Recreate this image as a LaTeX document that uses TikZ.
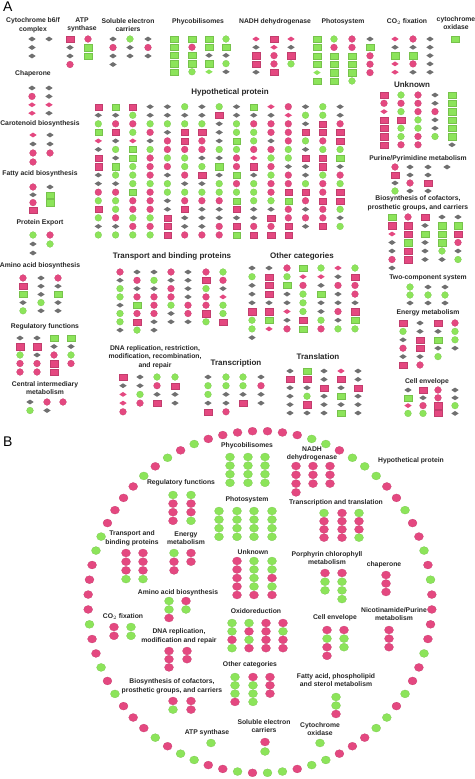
\documentclass[tikz,border=0pt]{standalone}
\usepackage{fontspec}
\setmainfont{Liberation Sans}
\usetikzlibrary{shapes.geometric}
\definecolor{pk}{RGB}{228,72,128}
\definecolor{gn}{RGB}{140,228,90}
\definecolor{gy}{RGB}{112,112,112}
% one column of genes: name, x, top y, pitch, list of styles
\newcommand{\gcol}[5]{\foreach \s [count=\k] in {#5} {\node[\s] (#1-\k) at (#2,{#3+(\k-1)*#4}) {};}}

\begin{document}
\begin{tikzpicture}[x=1pt,y=-1pt,
	pc/.style={circle,fill=pk,draw=pk!85!black,line width=.2pt,minimum size=6.8pt,inner sep=0pt},
	ps/.style={rectangle,fill=pk,draw=pk!85!black,line width=.2pt,minimum width=7.4pt,minimum height=6.2pt,inner sep=0pt},
	pd/.style={diamond,fill=pk,minimum width=7.6pt,minimum height=5pt,inner sep=0pt},
	gc/.style={circle,fill=gn,draw=gn!85!black,line width=.2pt,minimum size=6.8pt,inner sep=0pt},
	gs/.style={rectangle,fill=gn,draw=gn!85!black,line width=.2pt,minimum width=7.4pt,minimum height=6.2pt,inner sep=0pt},
	gd/.style={diamond,fill=gn,minimum width=7.6pt,minimum height=5pt,inner sep=0pt},
	dd/.style={diamond,fill=gy,minimum width=7.6pt,minimum height=5pt,inner sep=0pt},
	bp/.style={ellipse,fill=pk,draw=pk!85!black,line width=.2pt,minimum width=9pt,minimum height=8pt,inner sep=0pt},
	bg/.style={ellipse,fill=gn,draw=gn!85!black,line width=.2pt,minimum width=9pt,minimum height=8pt,inner sep=0pt},
	lbl/.style={font=\fontsize{6.8}{8.6}\selectfont\bfseries,text=black!85,align=center,inner sep=0pt},
	lblm/.style={font=\fontsize{8}{9.5}\selectfont\bfseries,text=black!85,align=center,inner sep=0pt},
	pan/.style={font=\fontsize{14}{16}\selectfont,anchor=north west,inner sep=0pt}]
	\useasboundingbox (0,0) rectangle (474,779);
	
	% ---------------- A
	\node[pan] (A) at (3,2) {A};
	
	\node[lbl] (cyt) at (33,25) {Cytochrome b6/f\\complex};
	\gcol{cyt1}{32}{39}{8.5}{dd,dd,dd}
	\gcol{cyt2}{49}{39}{8.5}{dd}
	\node[lbl] (atp) at (82,25) {ATP\\synthase};
	\gcol{atp1}{70}{39}{8.5}{ps,dd,dd,pc}
	\gcol{atp2}{88}{39}{8.5}{pc,gs,gs}
	\node[lbl] (sol) at (128,25) {Soluble electron\\carriers};
	\gcol{sol1}{113}{39}{8.5}{dd,pc,dd,dd}
	\gcol{sol2}{130}{39}{8.5}{gc,dd,dd}
	\gcol{sol3}{148}{39}{8.5}{dd,pc,dd}
	\node[lbl] (phy) at (198,22) {Phycobilisomes};
	\gcol{phy1}{174}{39}{8.2}{gs,gs,gs,gs,gs}
	\gcol{phy2}{192}{39}{8.2}{gs,pc,gs,gs,gc}
	\gcol{phy3}{209}{39}{8.2}{gs,gs,dd,gs,gd}
	\gcol{phy4}{226}{39}{8.2}{gc,gs,dd,gc,dd}
	\node[lbl] (nadh) at (275,22) {NADH dehydrogenase};
	\gcol{nadh1}{256}{39}{8.3}{pd,dd,ps,ps,dd}
	\gcol{nadh2}{274}{39}{8.3}{ps,pd,pc,pc,ps}
	\gcol{nadh3}{291}{39}{8.3}{pd,dd,ps,gc}
	\node[lbl] (pho) at (343,22) {Photosystem};
	\gcol{pho1}{317}{39}{8.4}{gs,gs,gs,gs,gd,gs}
	\gcol{pho2}{334}{39}{8.4}{gc,pc,gs,gs,gs,gs}
	\gcol{pho3}{352}{39}{8.4}{pc,pc,gs,gs,gs,gc}
	\gcol{pho4}{370}{39}{8.4}{dd,gs,pc,pc,pc}
	\node[lbl] (co2) at (407,22) {CO$_2$ fixation};
	\gcol{co21}{395}{39}{8.3}{pd,dd,gs,pd,pd}
	\gcol{co22}{413}{39}{8.3}{pc,dd,gs,pc,dd}
	\gcol{co23}{430}{39}{8.3}{dd,dd,dd,dd,dd}
	\node[lbl] (cox) at (456,23) {cytochrome\\oxidase};
	\gcol{cox1}{455}{39}{8.3}{gs}
	
	% left side
	\node[lbl] (cha) at (33,74) {Chaperone};
	\gcol{cha1}{32}{88}{8.4}{dd,pc,pd,pd}
	\gcol{cha2}{49}{88}{8.4}{dd,dd,pd,dd}
	\node[lbl] (car) at (40,124) {Carotenoid biosynthesis};
	\gcol{car1}{33}{135}{9}{pd,dd,pc,pc}
	\gcol{car2}{50}{135}{9}{dd,dd,pc}
	\node[lbl] (fat) at (40,174) {Fatty acid biosynthesis};
	\gcol{fat1}{33}{187}{7.8}{pc,dd,pc,ps}
	\gcol{fat2}{50}{187}{7.8}{dd,gs,gs}
	\node[lbl] (pex) at (40,223) {Protein Export};
	\gcol{pex1}{33}{235}{9}{gc,dd,dd}
	\gcol{pex2}{50}{235}{9}{pc,gc}
	\node[lbl] (ami) at (40,266) {Amino acid biosynthesis};
	\gcol{ami1}{23}{278}{8.2}{pc,ps,gs,dd,gc}
	\gcol{ami2}{41}{278}{8.2}{dd,dd,dd,gc,dd}
	\gcol{ami3}{58}{278}{8.2}{pc,dd,gs,dd,dd}
	\node[lbl] (reg) at (45,327) {Regulatory functions};
	\gcol{reg1}{20}{338}{8.5}{dd,ps,gc,pc,pc}
	\gcol{reg2}{37}{338}{8.5}{dd,ps,dd,pc,pc}
	\gcol{reg3}{54}{338}{8.5}{gs,dd,pc,ps,ps}
	\gcol{reg4}{71}{338}{8.5}{gs,dd,gc,pc}
	\node[lbl] (cim) at (45,388) {Central intermediary\\metabolism};
	\gcol{cim1}{30}{402}{8.5}{dd,gc}
	\gcol{cim2}{47}{402}{8.5}{pc,dd}
	\gcol{cim3}{63}{402}{8.5}{pc}
	
	% hypothetical protein
	\node[lblm] (hyp) at (230,92) {Hypothetical protein};
	\gcol{hyp1}{98.3}{106.7}{8.55}{ps,dd,gc,gs,pd,dd,ps,ps,dd,dd,pc,gc,ps,gc,dd,gc}
	\gcol{hyp2}{115.6}{106.7}{8.55}{gs,dd,pc,ps,dd,gc,dd,gs,gc,dd,pc,gc,gc,pc,dd,gc}
	\gcol{hyp3}{132.8}{106.7}{8.55}{ps,gc,pc,gc,pd,gs,gs,gc,gc,gc,gs,pc,pc,gc,pc,gc}
	\gcol{hyp4}{150.1}{106.7}{8.55}{dd,dd,gc,pc,dd,gc,pc,pc,pc,gc,pc,pc,pc,gc,pc,gc}
	\gcol{hyp5}{167.4}{106.7}{8.55}{dd,dd,gc,dd,pc,pc,gc,pc,dd,gc,gc,dd,dd,ps,ps,ps}
	\gcol{hyp6}{184.7}{106.7}{8.55}{gc,dd,gc,ps,ps,pc,gc,gc,pc,dd,gc,pc,ps,dd,dd,pc}
	\gcol{hyp7}{201.9}{106.7}{8.55}{dd,dd,gc,ps,pc,pc,dd,gc,ps,dd,gc,pc,dd,dd,dd,pc}
	\gcol{hyp8}{219.2}{106.7}{8.55}{gc,ps,dd,dd,dd,gc,dd,gs,dd,gc,gc,pc,dd,dd,pc,pc}
	\gcol{hyp9}{236.5}{106.7}{8.55}{dd,dd,gc,gc,gs,gc,pc,pc,gs,pc,gc,gs,ps,dd,ps,gs}
	\gcol{hyp10}{253.7}{106.7}{8.55}{gs,dd,pc,gc,gc,pc,pd,ps,dd,gc,gc,gc,dd,dd,pc,ps}
	\gcol{hyp11}{271}{106.7}{8.55}{pd,dd,pc,pc,dd,pc,gc,pc,gc,pc,pc,gc,dd,ps,pc,ps}
	\gcol{hyp12}{288.3}{106.7}{8.55}{pc,pd,pc,pc,pc,gc,gc,dd,pc,pc,ps,gs,pc,pc,ps,ps}
	\gcol{hyp13}{305.5}{106.7}{8.55}{dd,gc,dd,ps,gc,dd,ps,dd,dd,gc,ps,pc,dd,pc,dd}
	\gcol{hyp14}{322.8}{106.7}{8.55}{gc,gc,ps,ps,pc,gc,ps,ps,gc,pc,pc,ps,pc,pc,ps}
	\gcol{hyp15}{340.1}{106.7}{8.55}{dd,dd,pc,ps,ps,gc,gs,dd,pc,gc,ps,ps,gc,dd,gc}
	
	\node[lblm] (tbp) at (172,256) {Transport and binding proteins};
	\gcol{tbp1}{120}{272}{8.3}{pc,dd,gc,gc,dd,gc,gc,dd}
	\gcol{tbp2}{137}{272}{8.3}{dd,pc,dd,pc,gs,pc,ps,gc}
	\gcol{tbp3}{154}{272}{8.3}{dd,gc,dd,pc,pc,pc,dd,dd}
	\gcol{tbp4}{171}{272}{8.3}{pc,dd,pc,pc,gc,dd,dd}
	\gcol{tbp5}{188}{272}{8.3}{dd,dd,dd,dd,pc,pc,dd}
	\gcol{tbp6}{206}{272}{8.3}{pc,ps,gc,pc,pc,ps,gc}
	\gcol{tbp7}{223}{272}{8.3}{gc,pc,dd,pd,gc,gc,ps}
	
	\node[lblm] (oth) at (302,256) {Other categories};
	\gcol{oth1}{252}{268}{8.7}{dd,gc,dd,dd,dd,ps,gc,gc,dd}
	\gcol{oth2}{269}{268}{8.7}{dd,ps,ps,ps,dd,ps,gs,pd}
	\gcol{oth3}{287}{268}{8.7}{pc,gc,gs,dd,dd,pd,dd,pc}
	\gcol{oth4}{303}{268}{8.7}{gs,pd,pc,gc,gc,gc,ps,gs}
	\gcol{oth5}{321}{268}{8.7}{gc,pd,dd,gs,dd,dd,gc,pc}
	\gcol{oth6}{338}{268}{8.7}{pd,dd,pc,dd,dd,pc,dd,gc}
	\gcol{oth7}{355}{268}{8.7}{gc,ps,pc,pc,dd,ps,gs,gc}
	
	\node[lbl] (dna) at (155,357) {DNA replication, restriction,\\modification, recombination,\\and repair};
	\gcol{dna1}{123}{377}{8.7}{ps,dd,pd,pd,pc}
	\gcol{dna2}{140}{377}{8.7}{dd,dd,gc,pc}
	\gcol{dna3}{157}{377}{8.7}{gc,pc,dd,ps}
	\gcol{dna4}{175}{377}{8.7}{gc,ps,dd,dd}
	\node[lblm] (trc) at (236,363) {Transcription};
	\gcol{trc1}{208}{377}{8.7}{dd,gc,gc,dd,ps}
	\gcol{trc2}{226}{377}{8.7}{gc,gc,dd,dd,pc}
	\gcol{trc3}{243}{377}{8.7}{gc,gc,dd,ps}
	\gcol{trc4}{261}{377}{8.7}{dd,pc,dd,dd}
	\node[lblm] (trl) at (318,357) {Translation};
	\gcol{trl1}{290}{371}{8.4}{dd,ps,dd,dd,dd,dd}
	\gcol{trl2}{307}{371}{8.4}{gs,ps,dd,gc,ps,dd}
	\gcol{trl3}{324}{371}{8.4}{dd,dd,ps,dd,dd,dd}
	\gcol{trl4}{341}{371}{8.4}{pd,ps,dd,gs,dd,gs}
	\gcol{trl5}{358}{371}{8.4}{dd,dd,ps,dd,dd,dd}
	
	% right side
	\node[lblm] (unk) at (412,85) {Unknown};
	\gcol{unk1}{384}{95}{8.3}{ps,pc,pd,ps,ps,ps,ps}
	\gcol{unk2}{401}{95}{8.3}{gc,pc,gc,ps,gc,gc,pc}
	\gcol{unk3}{418}{95}{8.3}{pc,pc,pc,gc,gc,pc,pc}
	\gcol{unk4}{435}{95}{8.3}{dd,dd,pc,dd,dd,gc}
	\gcol{unk5}{452}{95}{8.3}{gs,gs,gs,gs,gs,gs,dd}
	\node[lbl] (pur) at (418,159) {Purine/Pyrimidine metabolism};
	\gcol{pur1}{395}{167}{8}{pc,ps,dd,gc}
	\gcol{pur2}{410}{167}{8}{dd,dd,pc,dd}
	\gcol{pur3}{428}{167}{8}{dd,dd,ps,dd}
	\gcol{pur4}{447}{167}{8}{dd}
	\node[lbl] (bcf) at (418,203) {Biosynthesis of cofactors,\\prosthetic groups, and carriers};
	\gcol{bcf1}{392}{217}{8.5}{gs,ps,pd,dd,dd,pc,dd}
	\gcol{bcf2}{408}{217}{8.5}{pc,ps,ps,gs,ps,ps}
	\gcol{bcf3}{425}{217}{8.5}{ps,dd,gs,dd,dd,dd}
	\gcol{bcf4}{442}{217}{8.5}{dd,gs,gs,gs,gc,dd}
	\gcol{bcf5}{458}{217}{8.5}{dd,gs,ps,pc,dd,gc}
	\node[lbl] (two) at (428,278) {Two-component system};
	\gcol{two1}{410}{287}{8}{gc,gc,dd}
	\gcol{two2}{428}{287}{8}{dd,gc,dd}
	\gcol{two3}{445}{287}{8}{dd,gc,dd}
	\node[lbl] (ene) at (428,313) {Energy metabolism};
	\gcol{ene1}{403}{323}{8.4}{ps,gc,dd,pc,dd,ps}
	\gcol{ene2}{420}{323}{8.4}{dd,dd,ps,ps,dd,pc}
	\gcol{ene3}{438}{323}{8.4}{ps,dd,gs,dd,gc}
	\gcol{ene4}{455}{323}{8.4}{pc,gc,gc,dd}
	\node[lbl] (cen) at (427,382) {Cell envelope};
	\gcol{cen1}{408}{390}{7.8}{dd,gs,pd,gc}
	\gcol{cen2}{423}{390}{7.8}{ps,dd,pc,gc}
	\gcol{cen3}{438}{390}{7.8}{pc,pc,ps,ps}
	\gcol{cen4}{455}{390}{7.8}{dd,dd,gc,dd}
	
	% ---------------- B
	\node[pan] (B) at (3,437) {B};
	
	% ring of genes
	\foreach \c [count=\i] in {p,p,p,p,g,p,g,p,g,p,p,p,p,g,g,p,p,p,
		p,g,p,p,g,p,g,p,p,p,g,p,g,g,p,p,
		g,p,g,g,p,g,g,p,p,p,g,g,p,g,p,p,g,p,p,p,
		p,g,p,g,p,p,g,p,p,g,g,g,p,g,g,p,p,p}
	\node[b\c] (r\i) at ({260+172*cos(92.5+5*(\i-1))},{602-171*sin(92.5+5*(\i-1))}) {};
	
	\node[lbl] (bphy) at (247,446) {Phycobilisomes};
	\gcol{bphy1}{230}{457}{8.6}{bg,bg,bg,bg}
	\gcol{bphy2}{248}{457}{8.6}{bg,bg,bg,bg}
	\gcol{bphy3}{265}{457}{8.6}{bg,bg,bg,bg}
	\node[lbl] (bnadh) at (312,454) {NADH\\dehydrogenase};
	\gcol{bnadh1}{296}{466}{8.8}{bp,bp,bp,bp}
	\gcol{bnadh2}{313}{466}{8.8}{bp,bp,bp}
	\gcol{bnadh3}{330}{466}{8.8}{bp,bp,bp}
	\node[lbl] (bhyp) at (411,461) {Hypothetical protein};
	\node[lbl] (breg) at (181,483) {Regulatory functions};
	\gcol{breg1}{173}{495}{8.6}{bg,bp,bp,bp}
	\gcol{breg2}{191}{495}{8.6}{bg,bp,bp,bg}
	\node[lbl] (bpho) at (247,500) {Photosystem};
	\gcol{bpho1}{219}{511}{8.6}{bg,bg,bg,bg}
	\gcol{bpho2}{237}{511}{8.6}{bg,bg,bg,bg}
	\gcol{bpho3}{254}{511}{8.6}{bg,bg,bg,bg}
	\gcol{bpho4}{272}{511}{8.6}{bg,bg,bg,bg}
	\node[lbl] (btt) at (336,503) {Transcription and translation};
	\gcol{btt1}{324}{513}{8.2}{bg,bp,bp,bp}
	\gcol{btt2}{342}{513}{8.2}{bp,bp,bp,bp}
	\gcol{btt3}{359}{513}{8.2}{bg,bp,bp,bg}
	\node[lbl] (btbp) at (132,538) {Transport and\\binding proteins};
	\gcol{btbp1}{126}{553}{8.7}{bp,bp,bp,bg}
	\gcol{btbp2}{143}{553}{8.7}{bp,bp,bp,bg}
	\node[lbl] (bene) at (186,538) {Energy\\metabolism};
	\gcol{bene1}{174}{553}{8.7}{bg,bp,bp}
	\gcol{bene2}{191}{553}{8.7}{bp,bp}
	\node[lbl] (bunk) at (253,552) {Unknown};
	\gcol{bunk1}{237}{561}{8.5}{bp,bp,bp,bp,bp}
	\gcol{bunk2}{254}{561}{8.5}{bg,bg,bg,bg,bp}
	\gcol{bunk3}{272}{561}{8.5}{bg,bg,bp,bg,bp}
	\node[lbl] (bpor) at (327,558) {Porphyrin chlorophyll\\metabolism};
	\gcol{bpor1}{325}{573}{8.7}{bp,bg,bg}
	\gcol{bpor2}{342}{573}{8.7}{bp,bg,bg,bg}
	\node[lbl] (bcha) at (384,565) {chaperone};
	\gcol{bcha1}{386}{575}{8.5}{bp,bp,bp}
	\node[lbl] (bami) at (178,593) {Amino acid biosynthesis};
	\gcol{bami1}{169}{601}{8.5}{bg,bg,bp}
	\gcol{bami2}{186}{601}{8.5}{bp,bg}
	\node[lbl] (boxi) at (256,611) {Oxidoreduction};
	\gcol{boxi1}{232}{623}{8.4}{bg,bg,bp,bg}
	\gcol{boxi2}{249}{623}{8.4}{bg,bp,bg,bp}
	\gcol{boxi3}{266}{623}{8.4}{bp,bp,bp,bp}
	\gcol{boxi4}{283}{623}{8.4}{bp,bg,bp,bp}
	\node[lbl] (bnic) at (394,614) {Nicotinamide/Purine\\metabolism};
	\gcol{bnic1}{389}{630}{8.6}{bp,bp,bp}
	\node[lbl] (bco2) at (123,617) {CO$_2$ fixation};
	\gcol{bco21}{114}{627}{8.8}{bp,bp}
	\gcol{bco22}{131}{627}{8.8}{bg,bg}
	\node[lbl] (bcen) at (335,618) {Cell envelope};
	\gcol{bcen1}{327}{630}{8.6}{bp,bg,bp,bp}
	\gcol{bcen2}{344}{630}{8.6}{bp,bg,bg}
	\node[lbl] (bdna) at (179,636) {DNA replication,\\modification and repair};
	\gcol{bdna1}{169}{651}{8.2}{bp,bp,bp}
	\gcol{bdna2}{187}{651}{8.2}{bp,bp}
	\node[lbl] (both) at (250,665) {Other categories};
	\gcol{both1}{235}{677}{8.3}{bg,bg,bg,bp}
	\gcol{both2}{253}{677}{8.3}{bp,bg,bg,bg}
	\gcol{both3}{270}{677}{8.3}{bp,bp,bp}
	\node[lbl] (bfat) at (336,680) {Fatty acid, phospholipid\\and sterol metabolism};
	\gcol{bfat1}{336}{697}{8.5}{bg,bg,bp}
	\node[lbl] (bbcf) at (172,686) {Biosynthesis of cofactors,\\prosthetic groups, and carriers};
	\gcol{bbcf1}{173}{701}{8.6}{bp,bg}
	\gcol{bbcf2}{191}{701}{8.6}{bp,bp}
	\node[lbl] (bsol) at (264,726) {Soluble electron\\carriers};
	\gcol{bsol1}{265}{742}{9.5}{bp,bg}
	\node[lbl] (batp) at (207,733) {ATP synthase};
	\gcol{batp1}{211}{743}{8.5}{bg}
	\node[lbl] (bcox) at (320,729) {Cytochrome\\oxidase};
	\gcol{bcox1}{320}{743}{8.5}{bg}
\end{tikzpicture}
\end{document}
